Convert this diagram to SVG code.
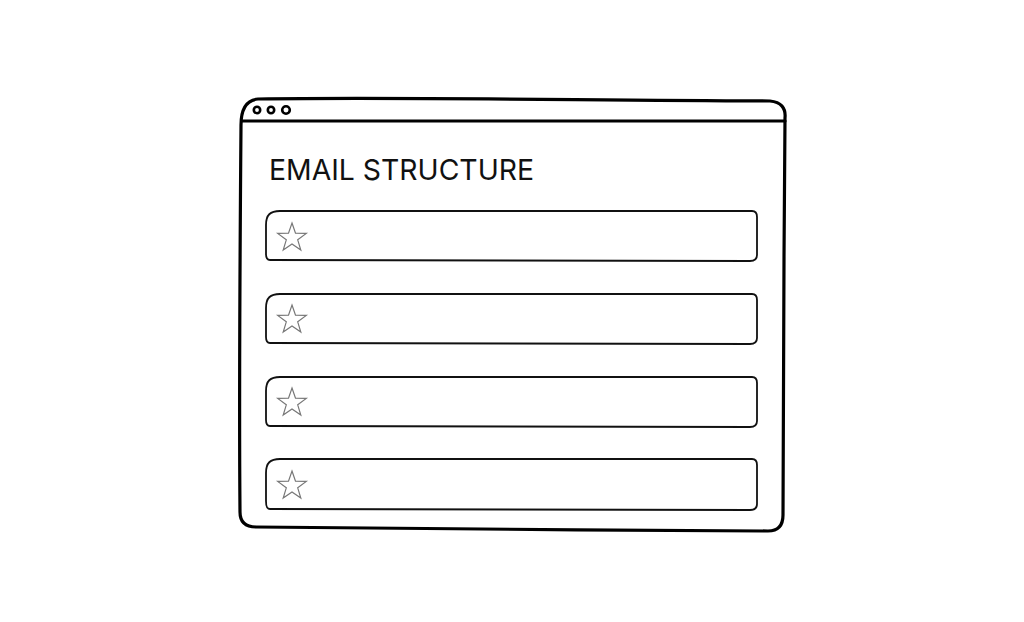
<svg xmlns="http://www.w3.org/2000/svg" width="1024" height="622" viewBox="0 0 1024 622">
<defs>
<style>
.win{fill:#fff;stroke:#000;stroke-width:3.2;stroke-linecap:round;stroke-linejoin:round}
.line{fill:none;stroke:#000;stroke-width:3.2;stroke-linecap:round}
.dot{fill:#fff;stroke:#000;stroke-width:2.6}
.row{fill:#fff;stroke:#111;stroke-width:1.8;stroke-linejoin:round}
.star{fill:#fff;stroke:#777;stroke-width:1.2;stroke-linejoin:miter}
.title{font-family:Inter,"Open Sans",sans-serif;font-size:29px;fill:#111}
</style>
<polygon id="starShape" class="star" points="0,-15 3.5,-4.8 14.3,-4.6 5.7,1.8 8.8,12.1 0,6 -8.8,12.1 -5.7,1.8 -14.3,-4.6 -3.5,-4.8"/>
</defs>
<rect width="1024" height="622" fill="#fff"/>
<g id="window">
<path class="win" d="M258,99 C400,97 560,100 770,101 C781,102 786,108 785,118 C784,250 783,400 783,515 C783,526 778,531 768,531 C600,530 400,529 256,527 C245,527 240,522 240,512 C239,400 240,250 241,125 C241,110 246,100 258,99 Z"/>
<path class="line" d="M242,121 C420,120 600,122 785,121"/>
<circle class="dot" cx="257" cy="110" r="3.2"/>
<circle class="dot" cx="271" cy="110" r="3.2"/>
<circle class="dot" cx="286" cy="110" r="3.8"/>
</g>
<g id="title">
<text class="title" x="269" y="180" textLength="265" lengthAdjust="spacingAndGlyphs">EMAIL STRUCTURE</text>
</g>
<g id="row1">
<path class="row" d="M280,211 C450,210 600,211 752,211 C756,211 757,213 757,217 L757,255 C757,259 755,261 750,261 C600,261 450,261 270,260 C267,260 266,258 266,254 L266,225 C266,215 270,211 280,211 Z"/>
<use href="#starShape" x="292" y="238"/>
</g>
<g id="row2">
<path class="row" d="M280,294 C450,293 600,294 752,294 C756,294 757,296 757,300 L757,338 C757,342 755,344 750,344 C600,344 450,344 270,343 C267,343 266,341 266,337 L266,308 C266,298 270,294 280,294 Z"/>
<use href="#starShape" x="292" y="320"/>
</g>
<g id="row3">
<path class="row" d="M280,377 C450,376 600,377 752,377 C756,377 757,379 757,383 L757,421 C757,425 755,427 750,427 C600,427 450,427 270,426 C267,426 266,424 266,420 L266,391 C266,381 270,377 280,377 Z"/>
<use href="#starShape" x="292" y="403"/>
</g>
<g id="row4">
<path class="row" d="M280,459 C450,458 600,459 752,459 C756,459 757,461 757,465 L757,504 C757,508 755,510 750,510 C600,510 450,510 270,509 C267,509 266,507 266,501 L266,473 C266,463 270,459 280,459 Z"/>
<use href="#starShape" x="292" y="486"/>
</g>
<g id="connectors"></g>
</svg>
